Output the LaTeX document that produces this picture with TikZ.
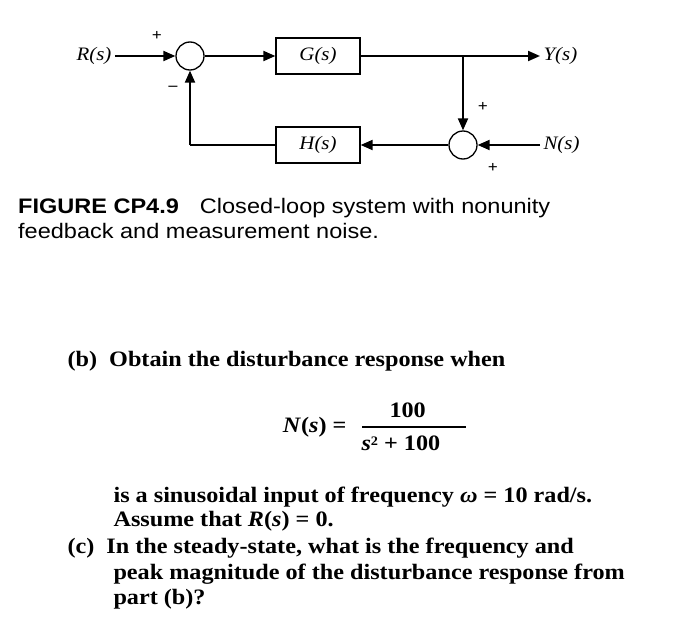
\documentclass[tikz,border=0pt]{standalone}
\usepackage{fontspec}
\setmainfont{Liberation Serif}[FakeStretch=1.1]
\newfontfamily\capfont{Liberation Sans}[FakeStretch=1.12]
\usetikzlibrary{arrows.meta}
\begin{document}
\begin{tikzpicture}[x=1pt,y=-1pt,
  blk/.style={draw,line width=1.3pt,minimum width=84pt,minimum height=36pt,font=\fontsize{19}{21}\selectfont\itshape},
  sumc/.style={draw,circle,line width=1.3pt,minimum size=28pt,inner sep=0pt},
  sig/.style={font=\fontsize{19}{21}\selectfont\itshape},
  sgn/.style={font=\fontsize{16}{18}\selectfont\bfseries},
  wire/.style={line width=2pt,-{Triangle[length=12pt,width=10pt]}},
  body/.style={font=\fontsize{22}{26}\selectfont\bfseries,anchor=west}]
\useasboundingbox[fill=white] (0,0) rectangle (700,637);
\node[sig] (R) at (94,56) {R(s)};
\node[sumc] (s1) at (190,56) {};
\node[blk] (G) at (318,56) {G(s)};
\coordinate (j) at (463,56);
\node[sig,anchor=west] (Y) at (540,56) {Y(s)};
\node[sumc] (s2) at (463,145) {};
\node[blk] (H) at (318,145) {H(s)};
\node[sig,anchor=west] (N) at (540,145) {N(s)};
\coordinate (c) at (190,145);
\draw[wire] (R) -- (s1);
\draw[wire] (s1) -- (G);
\draw[line width=2pt] (G) -- (j);
\draw[wire] (j) -- (Y);
\draw[wire] (j) -- (s2);
\draw[wire] (N) -- (s2);
\draw[wire] (s2) -- (H);
\draw[line width=2pt] (H) -- (c);
\draw[wire] (c) -- (s1);
\node[sgn] (p1) at (157,36) {+};
\node[sgn] (m1) at (173,88) {–};
\node[sgn] (p2) at (483,107) {+};
\node[sgn] (p3) at (493,168) {+};
\node[anchor=west,font=\capfont\fontsize{21}{25}\selectfont,align=left,inner sep=0pt] (cap) at (18,218)
 {\textbf{FIGURE CP4.9}\quad Closed-loop system with nonunity\\feedback and measurement noise.};
\node[body] (b) at (64,361) {(b)\ \ Obtain the disturbance response when};
\node[body,anchor=east] (eqL) at (350,427) {\textit{N}(\textit{s}) = };
\node[body] (num) at (386,410) {100};
\node[body] (den) at (358,443) {\textit{s}\raisebox{0.5ex}{\fontsize{13}{14}\selectfont 2} + 100};
\draw[line width=1.2pt] (362,427) -- (466,427);
\node[body] (l1) at (110,497) {is a sinusoidal input of frequency \textit{ω} = 10 rad/s.};
\node[body] (l2) at (110,521) {Assume that \textit{R}(\textit{s}) = 0.};
\node[body] (c1) at (64,548) {(c)\ \ In the steady-state, what is the frequency and};
\node[body] (l3) at (110,574) {peak magnitude of the disturbance response from};
\node[body] (l4) at (110,599) {part (b)?};
\end{tikzpicture}
\end{document}
